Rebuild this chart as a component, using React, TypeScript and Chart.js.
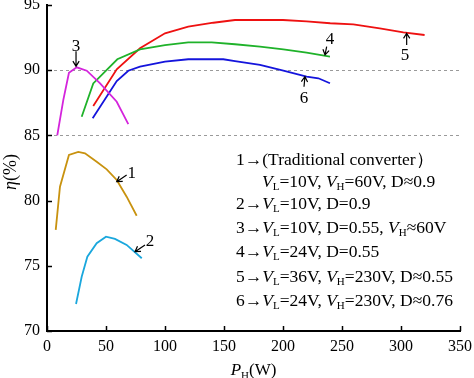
import React, { useEffect, useRef } from 'react';
import { Chart, registerables } from 'chart.js';

Chart.register(...registerables);

const FONT = '"Liberation Serif", "Times New Roman", serif';

// Axis ticks
const xMin = 0;
const xMax = 350;
const xStep = 50;
const yMin = 70;
const yMax = 95;
const yStep = 5;
const dashedLevels = [85, 90];

// Series (P_H in W, efficiency in %)
const curve1X = [7.4, 11, 18.6, 26.5, 32.2, 42.1, 50.6, 59.1, 67.5, 76.0];
const curve1Y = [77.75, 81.07, 83.5, 83.73, 83.63, 82.98, 82.4, 81.58, 80.3, 78.84];
const curve2X = [24.6, 29.4, 34.2, 42.1, 50, 57.6, 67.5, 80.3];
const curve2Y = [72.07, 74.16, 75.7, 76.73, 77.23, 77.06, 76.6, 75.58];
const curve3X = [8.7, 13.8, 18.6, 25.2, 33.7, 45, 59.1, 68.9];
const curve3Y = [85.0, 87.7, 89.8, 90.22, 89.96, 88.99, 87.58, 85.87];
const curve4X = [29.4, 39.2, 59.6, 78.8, 100, 119.7, 139.6, 159.3, 180.5, 200.3, 220, 239.8];
const curve4Y = [86.43, 88.99, 90.84, 91.6, 91.93, 92.14, 92.14, 91.99, 91.8, 91.6, 91.34, 91.04];
const curve5X = [39.2, 59.1, 78.8, 100, 119.7, 141, 159.3, 200, 220, 240, 259.6, 282, 302, 320];
const curve5Y = [87.25, 90.07, 91.68, 92.83, 93.34, 93.64, 93.85, 93.85, 93.75, 93.6, 93.52, 93.2, 92.9, 92.7];
const curve6X = [38.7, 59.1, 68.9, 78.8, 100, 119.7, 139.6, 149.4, 159.3, 180.5, 200.3, 220, 230, 239.8];
const curve6Y = [86.31, 89.17, 89.96, 90.27, 90.65, 90.84, 90.84, 90.84, 90.7, 90.4, 89.96, 89.5, 89.38, 89.0];

const curveNames = ['1', '2', '3', '4', '5', '6'];
const curveColors = ['#c8920f', '#1aa7dd', '#d424dc', '#1fb22a', '#ee1111', '#1414dc'];

// Curve label annotations (data coordinates)
const labelX = [71.8, 87.3, 24.6, 239.8, 303.4, 217.8];
const labelY = [82.04, 76.85, 91.78, 92.32, 91.09, 87.85];
const arrowFromX = [67.5, 83.05, 24.6, 237, 304.8, 217.8];
const arrowFromY = [81.96, 76.6, 91.45, 91.8, 91.93, 88.73];
const arrowToX = [59.1, 74.6, 24.6, 235.6, 304.8, 218.6];
const arrowToY = [81.45, 76.08, 90.3, 91.17, 92.83, 89.5];

// Legend text (* = italic toggle, _X = subscript X)
const legendLines = [
  '1→(Traditional converter）',
  '*V*_L=10V, *V*_H=60V, D≈0.9',
  '2→*V*_L=10V, D=0.9',
  '3→*V*_L=10V, D=0.55, *V*_H≈60V',
  '4→*V*_L=24V, D=0.55',
  '5→*V*_L=36V, *V*_H=230V, D≈0.55',
  '6→*V*_L=24V, *V*_H=230V, D≈0.76',
];
const legendIndent = [0, 1, 0, 0, 0, 0, 0];
const legendRowY = [160, 182, 204, 228, 252, 277, 301];

const yTitle = '*η*(%)';
const xTitle = '*P*_H(W)';

type Seg = { t: string; it: boolean; sub: boolean };

function parseRich(text: string): Seg[] {
  const segs: Seg[] = [];
  let italic = false;
  for (let i = 0; i < text.length; i++) {
    const c = text[i];
    if (c === '*') {
      italic = !italic;
      continue;
    }
    if (c === '_') {
      segs.push({ t: text[i + 1], it: false, sub: true });
      i++;
      continue;
    }
    const last = segs[segs.length - 1];
    if (last && !last.sub && last.it === italic) last.t += c;
    else segs.push({ t: c, it: italic, sub: false });
  }
  return segs;
}

function segFont(s: Seg, size: number) {
  const sz = s.sub ? Math.round(size * 0.65) : size;
  return `${s.it ? 'italic ' : ''}${sz}px ${FONT}`;
}

function drawRich(ctx: CanvasRenderingContext2D, text: string, x: number, y: number, size: number, align: 'left' | 'center') {
  const segs = parseRich(text);
  let total = 0;
  const widths: number[] = [];
  for (const s of segs) {
    ctx.font = segFont(s, size);
    const w = ctx.measureText(s.t).width;
    widths.push(w);
    total += w;
  }
  let cx = align === 'center' ? x - total / 2 : x;
  ctx.textAlign = 'left';
  ctx.textBaseline = 'middle';
  segs.forEach((s, i) => {
    ctx.font = segFont(s, size);
    ctx.fillText(s.t, cx, s.sub ? y + size * 0.3 : y);
    cx += widths[i];
  });
}

const decorPlugin = {
  id: 'decor',
  afterDraw(chart: any) {
    const ctx: CanvasRenderingContext2D = chart.ctx;
    const xs = chart.scales.x;
    const ys = chart.scales.y;
    const area = chart.chartArea;
    ctx.save();
    ctx.strokeStyle = '#000';
    ctx.fillStyle = '#000';
    ctx.lineWidth = 1.5;
    // inward ticks
    xs.ticks.forEach((t: any) => {
      const px = Math.round(xs.getPixelForValue(t.value)) + 0.5;
      ctx.beginPath();
      ctx.moveTo(px, area.bottom);
      ctx.lineTo(px, area.bottom - 5);
      ctx.stroke();
    });
    ys.ticks.forEach((t: any) => {
      const py = Math.round(ys.getPixelForValue(t.value)) + 0.5;
      ctx.beginPath();
      ctx.moveTo(area.left, py);
      ctx.lineTo(area.left + 5, py);
      ctx.stroke();
    });

    // curve labels with arrows
    ctx.lineWidth = 1.2;
    for (let i = 0; i < curveNames.length; i++) {
      const fx = xs.getPixelForValue(arrowFromX[i]);
      const fy = ys.getPixelForValue(arrowFromY[i]);
      const tx = xs.getPixelForValue(arrowToX[i]);
      const ty = ys.getPixelForValue(arrowToY[i]);
      ctx.beginPath();
      ctx.moveTo(fx, fy);
      ctx.lineTo(tx, ty);
      const a = Math.atan2(ty - fy, tx - fx);
      const hl = 6;
      ctx.moveTo(tx - hl * Math.cos(a - 0.55), ty - hl * Math.sin(a - 0.55));
      ctx.lineTo(tx, ty);
      ctx.lineTo(tx - hl * Math.cos(a + 0.55), ty - hl * Math.sin(a + 0.55));
      ctx.stroke();
      ctx.font = `17px ${FONT}`;
      ctx.textAlign = 'center';
      ctx.textBaseline = 'middle';
      ctx.fillText(curveNames[i], xs.getPixelForValue(labelX[i]), ys.getPixelForValue(labelY[i]));
    }

    // legend text block
    legendLines.forEach((line, i) => {
      drawRich(ctx, line, legendIndent[i] ? 262 : 236, legendRowY[i], 17.5, 'left');
    });

    // axis titles
    drawRich(ctx, xTitle, (area.left + area.right) / 2, 371, 17, 'center');
    ctx.save();
    ctx.translate(11, 172);
    ctx.rotate(-Math.PI / 2);
    drawRich(ctx, yTitle, 0, 0, 18, 'center');
    ctx.restore();
    ctx.restore();
  },
};

function buildData(xsArr: number[], ysArr: number[]) {
  return xsArr.map((x, i) => ({ x, y: ysArr[i] }));
}

export default function App() {
  const ref = useRef<HTMLCanvasElement | null>(null);
  useEffect(() => {
    if (!ref.current) return;
    const allX = [curve1X, curve2X, curve3X, curve4X, curve5X, curve6X];
    const allY = [curve1Y, curve2Y, curve3Y, curve4Y, curve5Y, curve6Y];
    const tickFont = { family: FONT, size: 16 };
    const chart = new Chart(ref.current, {
      type: 'line',
      data: {
        datasets: allX.map((xa, i) => ({
          label: curveNames[i],
          data: buildData(xa, allY[i]),
          borderColor: curveColors[i],
          backgroundColor: curveColors[i],
          borderWidth: 1.8,
          pointRadius: 0,
          tension: 0,
          fill: false,
        })),
      },
      options: {
        responsive: false,
        animation: false,
        layout: { autoPadding: false, padding: { top: 5, right: 14, left: 0, bottom: 0 } },
        plugins: { legend: { display: false }, tooltip: { enabled: false } },
        scales: {
          x: {
            type: 'linear',
            min: xMin,
            max: xMax,
            ticks: { stepSize: xStep, color: '#000', font: tickFont, padding: 6, maxRotation: 0, autoSkip: false },
            grid: { display: false, drawTicks: false },
            border: { display: true, color: '#000', width: 2 },
            afterFit: (s: any) => {
              s.height = 47;
              s.paddingLeft = 0;
              s.paddingRight = 0;
            },
          },
          y: {
            type: 'linear',
            min: yMin,
            max: yMax,
            ticks: { stepSize: yStep, color: '#000', font: tickFont, padding: 7, autoSkip: false },
            grid: {
              drawTicks: false,
              lineWidth: 1,
              color: (c: any) => (c.tick && dashedLevels.includes(c.tick.value) ? '#9a9a9a' : 'rgba(0,0,0,0)'),
            },
            border: { display: true, color: '#000', width: 2, dash: [3, 3] },
            afterFit: (s: any) => {
              s.width = 47;
              s.paddingTop = 0;
              s.paddingBottom = 0;
            },
          },
        },
      },
      plugins: [decorPlugin],
    } as any);
    return () => chart.destroy();
  }, []);
  return (
    <div style={{ position: 'fixed', left: 0, top: 0, width: 474, height: 378, background: '#fff' }}>
      <canvas ref={ref} width={474} height={378} style={{ display: 'block' }} />
    </div>
  );
}
